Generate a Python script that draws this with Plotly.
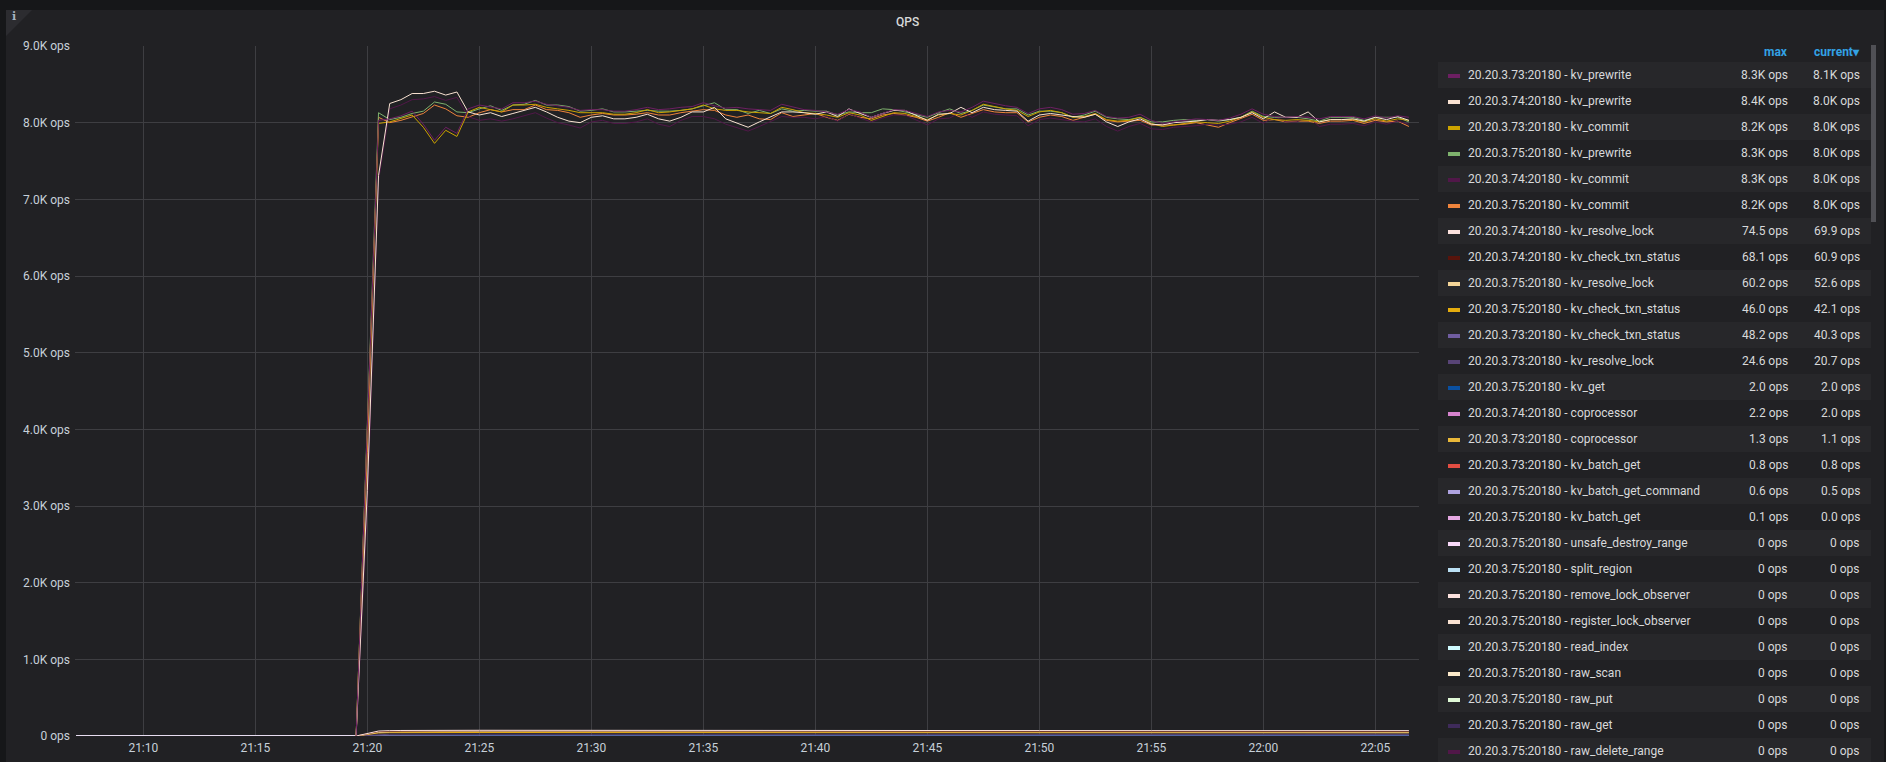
import pandas as pd
import plotly.graph_objects as go

DAY = "2023-06-01 "
FIG_W, FIG_H = 1886, 762
PL, PR, PT, PB = 75, 1419, 46, 736

# ---------------- data ----------------
# high-rate series (values in K ops), 30 s steps starting at 21:19:30
hi_start = "21:19:30"
s73_prewrite = [0, 3.9,
    8.03, 8.05, 8.09, 8.15, 7.98, 7.77, 7.94, 7.86, 8.18, 8.23, 8.20, 8.18, 8.26, 8.26, 8.28, 8.24,
    8.22, 8.20, 8.16, 8.17, 8.17, 8.15, 8.15, 8.17, 8.20, 8.17, 8.18, 8.20, 8.21, 8.26, 8.22, 8.19,
    8.20, 8.18, 8.17, 8.16, 8.24, 8.21, 8.17, 8.16, 8.14, 8.11, 8.17, 8.14, 8.07, 8.12, 8.17, 8.16,
    8.12, 8.08, 8.14, 8.16, 8.14, 8.20, 8.28, 8.25, 8.22, 8.20, 8.12, 8.18, 8.20, 8.17, 8.11, 8.12,
    8.16, 8.08, 8.06, 8.07, 8.11, 8.03, 7.99, 8.01, 8.03, 8.05, 8.04, 8.03, 8.06, 8.11, 8.18, 8.11,
    8.08, 8.07, 8.08, 8.07, 8.05, 8.08, 8.08, 8.08, 8.05, 8.09, 8.06, 8.09, 8.07]
s74_prewrite = [0, 3.2,
    7.31, 8.25, 8.30, 8.38, 8.38, 8.41, 8.36, 8.40, 8.14, 8.10, 8.13, 8.08, 8.12, 8.16, 8.20, 8.14,
    8.07, 8.02, 8.00, 8.07, 8.09, 8.05, 8.05, 8.07, 8.11, 8.05, 8.02, 8.07, 8.14, 8.14, 8.20, 8.05,
    7.99, 7.94, 8.01, 8.07, 8.14, 8.14, 8.13, 8.11, 8.14, 8.08, 8.18, 8.12, 8.07, 8.12, 8.16, 8.16,
    8.10, 8.03, 8.11, 8.12, 8.20, 8.13, 8.20, 8.17, 8.16, 8.15, 8.02, 8.10, 8.12, 8.10, 8.08, 8.07,
    8.11, 8.01, 7.95, 8.01, 8.05, 7.98, 7.97, 8.00, 8.01, 8.02, 8.04, 8.03, 8.04, 8.07, 8.13, 8.05,
    8.14, 8.07, 8.07, 8.14, 8.01, 8.04, 8.04, 8.05, 8.02, 8.07, 8.04, 8.08, 8.03]
s73_commit = [0, 3.9,
    7.99, 8.01, 8.05, 8.10, 7.94, 7.73, 7.90, 7.82, 8.14, 8.20, 8.17, 8.14, 8.23, 8.23, 8.24, 8.20,
    8.18, 8.16, 8.13, 8.13, 8.13, 8.11, 8.11, 8.13, 8.17, 8.13, 8.14, 8.16, 8.18, 8.23, 8.18, 8.16,
    8.16, 8.14, 8.13, 8.12, 8.20, 8.17, 8.13, 8.12, 8.10, 8.07, 8.13, 8.10, 8.03, 8.08, 8.13, 8.12,
    8.08, 8.04, 8.10, 8.12, 8.10, 8.16, 8.24, 8.21, 8.18, 8.16, 8.08, 8.14, 8.16, 8.13, 8.07, 8.08,
    8.12, 8.04, 8.02, 8.03, 8.07, 7.99, 7.95, 7.97, 7.99, 8.01, 8.00, 7.99, 8.02, 8.07, 8.14, 8.07,
    8.04, 8.03, 8.04, 8.03, 8.01, 8.04, 8.04, 8.04, 8.01, 8.05, 8.02, 8.05, 8.03]
s75_prewrite = [0, 4.0,
    8.13, 8.04, 8.07, 8.12, 8.15, 8.27, 8.24, 8.14, 8.13, 8.18, 8.22, 8.16, 8.23, 8.24, 8.29, 8.23,
    8.23, 8.21, 8.15, 8.16, 8.18, 8.14, 8.14, 8.15, 8.16, 8.15, 8.15, 8.16, 8.18, 8.22, 8.26, 8.17,
    8.17, 8.12, 8.16, 8.12, 8.18, 8.15, 8.16, 8.15, 8.15, 8.10, 8.14, 8.13, 8.13, 8.18, 8.17, 8.14,
    8.10, 8.07, 8.13, 8.18, 8.12, 8.16, 8.23, 8.20, 8.18, 8.18, 8.10, 8.15, 8.15, 8.13, 8.07, 8.10,
    8.15, 8.07, 8.05, 8.04, 8.07, 8.01, 8.01, 8.03, 8.04, 8.03, 8.04, 8.02, 8.04, 8.07, 8.15, 8.08,
    8.07, 8.07, 8.07, 8.05, 8.02, 8.07, 8.07, 8.07, 8.03, 8.07, 8.07, 8.07, 8.01]
s74_commit = [0, 3.0,
    7.25, 8.18, 8.23, 8.30, 8.31, 8.34, 8.29, 8.33, 8.08, 8.03, 8.05, 8.02, 8.05, 8.09, 8.13, 8.06,
    8.00, 7.97, 7.93, 8.01, 8.03, 7.99, 7.99, 8.01, 8.05, 7.98, 7.95, 8.03, 8.08, 8.08, 8.05, 7.98,
    7.93, 7.89, 7.95, 8.01, 8.08, 8.07, 8.07, 8.05, 8.08, 8.02, 8.12, 8.06, 8.01, 8.06, 8.10, 8.10,
    8.04, 7.97, 8.05, 8.06, 8.14, 8.07, 8.14, 8.11, 8.10, 8.09, 7.96, 8.04, 8.06, 8.04, 8.02, 8.01,
    8.05, 7.95, 7.89, 7.95, 7.99, 7.92, 7.91, 7.94, 7.95, 7.96, 7.98, 7.97, 7.98, 8.01, 8.07, 7.99,
    8.08, 8.01, 8.01, 8.08, 7.95, 7.98, 7.98, 7.99, 7.96, 8.01, 7.98, 8.02, 7.98]
s75_commit = [0, 3.7,
    8.07, 8.00, 8.03, 8.08, 8.12, 8.23, 8.18, 8.09, 8.07, 8.13, 8.17, 8.14, 8.17, 8.17, 8.23, 8.17,
    8.16, 8.13, 8.07, 8.10, 8.12, 8.10, 8.10, 8.11, 8.13, 8.10, 8.10, 8.13, 8.15, 8.17, 8.16, 8.10,
    8.07, 8.10, 8.05, 8.04, 8.13, 8.08, 8.10, 8.12, 8.07, 8.03, 8.11, 8.07, 8.05, 8.10, 8.12, 8.10,
    8.07, 8.02, 8.07, 8.13, 8.07, 8.12, 8.17, 8.14, 8.13, 8.13, 8.01, 8.07, 8.10, 8.08, 8.03, 8.07,
    8.11, 8.03, 8.01, 8.02, 8.03, 7.97, 7.97, 7.97, 7.98, 8.00, 7.97, 7.94, 8.00, 8.05, 8.11, 8.03,
    8.04, 8.01, 8.02, 8.02, 7.99, 8.02, 8.02, 8.03, 7.99, 8.03, 8.01, 8.02, 7.95]

# low-rate series (ops), sampled at these times
low_times = ["21:19:30", "21:20:00", "21:20:30", "21:21:00", "21:21:30", "21:25:00", "21:30:00",
             "21:35:00", "21:40:00", "21:45:00", "21:50:00", "21:55:00", "22:00:00", "22:05:00", "22:06:30"]
s74_resolve = [0, 30, 65, 70, 72, 74.5, 72, 71, 73, 72, 71, 70, 71, 70, 69.9]
s74_check = [0, 25, 58, 62, 64, 68.1, 65, 63, 64, 63, 62, 61, 62, 61, 60.9]
s75_resolve = [0, 22, 50, 55, 57, 60.2, 58, 56, 57, 55, 54, 53, 54, 53, 52.6]
s75_check = [0, 18, 40, 44, 45, 46.0, 45, 44, 45, 44, 43, 42, 43, 42, 42.1]
s73_check = [0, 18, 42, 46, 47, 48.2, 46, 45, 44, 43, 42, 41, 41, 40, 40.3]
s73_resolve = [0, 9, 21, 23, 24, 24.6, 23, 22, 22, 21, 21, 21, 21, 20, 20.7]
s75_get = [0, 1, 2, 2, 2, 2, 2, 2, 2, 2, 2, 2, 2, 2, 2.0]
s74_copr = [0, 1, 2, 2, 2.2, 2, 2, 2, 2, 2, 2, 2, 2, 2, 2.0]
s73_copr = [0, 0.5, 1.1, 1.2, 1.3, 1.1, 1.1, 1.2, 1.1, 1.1, 1.2, 1.1, 1.1, 1.1, 1.1]
s73_bget = [0, 0.4, 0.8, 0.8, 0.8, 0.8, 0.8, 0.8, 0.8, 0.8, 0.8, 0.8, 0.8, 0.8, 0.8]
s75_bgetc = [0, 0.3, 0.5, 0.6, 0.5, 0.5, 0.5, 0.5, 0.5, 0.5, 0.5, 0.5, 0.5, 0.5, 0.5]
s75_bget = [0, 0, 0.1, 0, 0, 0, 0, 0, 0, 0, 0, 0, 0, 0, 0.0]

zero_times = ["21:07:00", "22:06:30"]
zero_vals = [0, 0]

legend_names = [
    "20.20.3.73:20180 - kv_prewrite", "20.20.3.74:20180 - kv_prewrite", "20.20.3.73:20180 - kv_commit",
    "20.20.3.75:20180 - kv_prewrite", "20.20.3.74:20180 - kv_commit", "20.20.3.75:20180 - kv_commit",
    "20.20.3.74:20180 - kv_resolve_lock", "20.20.3.74:20180 - kv_check_txn_status",
    "20.20.3.75:20180 - kv_resolve_lock", "20.20.3.75:20180 - kv_check_txn_status",
    "20.20.3.73:20180 - kv_check_txn_status", "20.20.3.73:20180 - kv_resolve_lock",
    "20.20.3.75:20180 - kv_get", "20.20.3.74:20180 - coprocessor", "20.20.3.73:20180 - coprocessor",
    "20.20.3.73:20180 - kv_batch_get", "20.20.3.75:20180 - kv_batch_get_command",
    "20.20.3.75:20180 - kv_batch_get", "20.20.3.75:20180 - unsafe_destroy_range",
    "20.20.3.75:20180 - split_region", "20.20.3.75:20180 - remove_lock_observer",
    "20.20.3.75:20180 - register_lock_observer", "20.20.3.75:20180 - read_index",
    "20.20.3.75:20180 - raw_scan", "20.20.3.75:20180 - raw_put", "20.20.3.75:20180 - raw_get",
    "20.20.3.75:20180 - raw_delete_range"]
legend_max = ["8.3K ops", "8.4K ops", "8.2K ops", "8.3K ops", "8.3K ops", "8.2K ops", "74.5 ops", "68.1 ops",
              "60.2 ops", "46.0 ops", "48.2 ops", "24.6 ops", "2.0 ops", "2.2 ops", "1.3 ops", "0.8 ops",
              "0.6 ops", "0.1 ops"] + ["0 ops"] * 9
legend_cur = ["8.1K ops", "8.0K ops", "8.0K ops", "8.0K ops", "8.0K ops", "8.0K ops", "69.9 ops", "60.9 ops",
              "52.6 ops", "42.1 ops", "40.3 ops", "20.7 ops", "2.0 ops", "2.0 ops", "1.1 ops", "0.8 ops",
              "0.5 ops", "0.0 ops"] + ["0 ops"] * 9
colors = ["#6d1f62", "#f9e2d2", "#cca300", "#7eb26d", "#511749", "#ef843c", "#fce2de", "#58140c",
          "#f4d598", "#e5ac0e", "#705da0", "#584477", "#0a50a1", "#d683ce", "#eab839", "#e24d42",
          "#aea2e0", "#e5a8e2", "#f9d9f9", "#badff4", "#fce2de", "#f9e2d2", "#cffaff", "#fceaca",
          "#e0f9d7", "#3f2b5b", "#511749"]

y_ticks = [0, 1000, 2000, 3000, 4000, 5000, 6000, 7000, 8000, 9000]
y_tick_text = ["0 ops", "1.0K ops", "2.0K ops", "3.0K ops", "4.0K ops", "5.0K ops", "6.0K ops",
               "7.0K ops", "8.0K ops", "9.0K ops"]

# --------------- build series ---------------
hi_series = [s73_prewrite, s74_prewrite, s73_commit, s75_prewrite, s74_commit, s75_commit]
low_series = [s74_resolve, s74_check, s75_resolve, s75_check, s73_check, s73_resolve,
              s75_get, s74_copr, s73_copr, s73_bget, s75_bgetc, s75_bget]

series = []  # (x, y) per legend row
for vals in hi_series:
    t = pd.date_range(DAY + hi_start, periods=len(vals), freq="30s")
    series.append((t, [v * 1000 for v in vals]))
lt = [pd.Timestamp(DAY + s) for s in low_times]
for vals in low_series:
    series.append((lt, vals))
zt = [pd.Timestamp(DAY + s) for s in zero_times]
for _ in range(len(legend_names) - len(series)):
    series.append((zt, zero_vals))

fig = go.Figure()
# draw bottom rows first so the top legend rows end up on top
for i in reversed(range(len(legend_names))):
    x, y = series[i]
    fig.add_trace(go.Scatter(x=x, y=y, mode="lines", name=legend_names[i],
                             line=dict(color=colors[i], width=1), hoverinfo="skip",
                             showlegend=False))


def px(x):
    return (x - PL) / (PR - PL)


def py(y):
    return (PB - y) / (PB - PT)


shapes = []
annotations = []
# panel background
shapes.append(dict(type="rect", xref="paper", yref="paper", x0=px(6), x1=px(1884), y0=py(770), y1=py(10),
                   fillcolor="#212124", line=dict(width=0), layer="below"))
# info corner
shapes.append(dict(type="path", xref="paper", yref="paper",
                   path=f"M {px(6)},{py(10)} L {px(32)},{py(10)} L {px(6)},{py(36)} Z",
                   fillcolor="#2c2c30", line=dict(width=0), layer="below"))
annotations.append(dict(x=px(14), y=py(16), xref="paper", yref="paper", text="<b>i</b>", showarrow=False,
                        font=dict(family="DejaVu Serif", size=11, color="#a8b3c2"),
                        xanchor="center", yanchor="middle"))
# title
annotations.append(dict(x=px(907), y=py(22), xref="paper", yref="paper", text="QPS", showarrow=False,
                        font=dict(family="Roboto", size=12, color="#d8d9da", weight=500),
                        xanchor="center", yanchor="middle"))

# legend table
ROW0, ROWH = 75, 26
annotations.append(dict(x=px(1790), y=py(52), xref="paper", yref="paper", text="max", showarrow=False,
                        font=dict(family="Roboto", size=12, color="#33a2e5", weight=700),
                        xanchor="right", yanchor="middle"))
annotations.append(dict(x=px(1862), y=py(52), xref="paper", yref="paper", text="current\u25be",
                        showarrow=False, font=dict(family="Roboto", size=12, color="#33a2e5", weight=700),
                        xanchor="right", yanchor="middle"))
for i, name in enumerate(legend_names):
    cy = ROW0 + ROWH * i
    if i % 2 == 0:
        shapes.append(dict(type="rect", xref="paper", yref="paper", x0=px(1438), x1=px(1871),
                           y0=py(cy + 13), y1=py(cy - 13), fillcolor="#27272a", line=dict(width=0),
                           layer="below"))
    shapes.append(dict(type="rect", xref="paper", yref="paper", x0=px(1448), x1=px(1460),
                       y0=py(cy + 3), y1=py(cy - 1), fillcolor=colors[i], line=dict(width=0)))
    annotations.append(dict(x=px(1466), y=py(cy), xref="paper", yref="paper", text=name, showarrow=False,
                            font=dict(family="Roboto", size=12, color="#d8d9da"),
                            xanchor="left", yanchor="middle"))
    annotations.append(dict(x=px(1790), y=py(cy), xref="paper", yref="paper", text=legend_max[i],
                            showarrow=False, font=dict(family="Roboto", size=12, color="#d8d9da"),
                            xanchor="right", yanchor="middle"))
    annotations.append(dict(x=px(1862), y=py(cy), xref="paper", yref="paper", text=legend_cur[i],
                            showarrow=False, font=dict(family="Roboto", size=12, color="#d8d9da"),
                            xanchor="right", yanchor="middle"))
# scrollbar
shapes.append(dict(type="rect", xref="paper", yref="paper", x0=px(1871), x1=px(1876),
                   y0=py(222), y1=py(45), fillcolor="#505055", line=dict(width=0)))

fig.update_layout(
    width=FIG_W, height=FIG_H,
    margin=dict(l=PL, r=FIG_W - PR, t=PT, b=FIG_H - PB, pad=0, autoexpand=False),
    paper_bgcolor="#161719", plot_bgcolor="rgba(0,0,0,0)",
    font=dict(family="Roboto", size=12, color="#c7d0d9"),
    shapes=shapes, annotations=annotations, showlegend=False,
    xaxis=dict(type="date", range=[DAY + "21:06:57", DAY + "22:06:57"],
               tick0=DAY + "21:10:00", dtick=300000, tickformat="%H:%M", automargin=False,
               showgrid=True, gridcolor="#3e3e42", gridwidth=1, zeroline=False, showline=False,
               ticks="", ticklabelstandoff=3,
               tickfont=dict(family="Roboto", size=12, color="#c7d0d9")),
    yaxis=dict(range=[0, 9000], tickvals=y_ticks, ticktext=y_tick_text, automargin=False,
               showgrid=True, gridcolor="#3e3e42", gridwidth=1, zeroline=False, showline=False,
               ticks="", ticklabelstandoff=4,
               tickfont=dict(family="Roboto", size=12, color="#c7d0d9")),
)

page_fix = ("document.body.style.margin='0';document.body.style.overflow='hidden';"
            "document.body.style.background='#161719';"
            "document.documentElement.style.background='#161719';")
fig.write_html("out.html", post_script=page_fix, config={"displayModeBar": False})
